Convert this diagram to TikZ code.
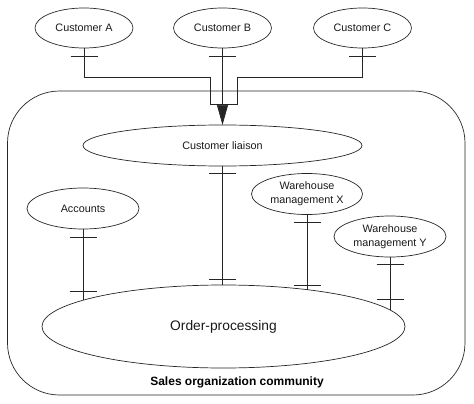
\documentclass[tikz,border=0pt]{standalone}
\usepackage{fontspec}
\setmainfont{Liberation Sans}
\usetikzlibrary{arrows.meta,decorations.markings,shapes.geometric}
\tikzset{
  ln/.style={draw=black!85, line width=0.7pt},
  ell/.style={ellipse, ln, inner sep=0pt, outer sep=0pt, align=center,
    font=\fontsize{10.8}{14}\selectfont, text=black!90},
  tk/.style={postaction={decorate,decoration={markings,
    mark=at position #1 with {\draw[-, black!85, line width=0.7pt] (0,-13.5pt) -- (0,13.5pt);}}}},
}
\begin{document}
\begin{tikzpicture}[x=1pt,y=-1pt]
\useasboundingbox (0,0) rectangle (474,404);
% outer community
\node (comm) [ln, rounded corners=52pt, minimum width=457.5pt, minimum height=304pt, inner sep=0pt, outer sep=0pt] at (236.25,243) {};
\node (commlbl) [font=\fontsize{12}{14}\selectfont\bfseries] at (237,382.5) {Sales organization community};
% customers
\node (A) [ell, minimum width=98pt, minimum height=40pt] at (84,28) {Customer A};
\node (B) [ell, minimum width=98pt, minimum height=40pt] at (222.5,28) {Customer B};
\node (C) [ell, minimum width=98pt, minimum height=40pt] at (362.5,28) {Customer C};
% inner nodes
\node (L) [ell, minimum width=279pt, minimum height=41pt] at (222.5,145.5) {Customer liaison};
\node (Acc) [ell, minimum width=112pt, minimum height=41pt] at (83,208.5) {Accounts};
\node (WX) [ell, minimum width=111pt, minimum height=41pt] at (307,194) {Warehouse\\management X};
\node (WY) [ell, minimum width=112pt, minimum height=41pt] at (390,236.5) {Warehouse\\management Y};
\node (O) [ell, minimum width=363pt, minimum height=83pt, font=\fontsize{13.8}{16}\selectfont] at (223.5,326.5) {Order-processing};
% junction coordinates
\coordinate (jl) at (210,77.7);
\coordinate (jlb) at (210,104.5);
\coordinate (jrb) at (237.7,104.5);
\coordinate (jr) at (237.7,77.7);
% ends on order-processing border
\coordinate (accE) at (83,299.5);
\coordinate (lE) at (222.5,285);
\coordinate (wxE) at (307,289.7);
\coordinate (wyE) at (390,310);
% connectors
\draw[ln, tk=8pt, tk=-8pt] (A.south) |- (jl) -- (jlb) -- (jrb) -- (jr) -| (C.south);
\draw[ln, tk=8pt, -{Triangle[length=20pt,width=11pt]}] (B.south) -- (L.north);
\draw[ln, tk=7pt, tk=-6pt] (L.south) -- (lE);
\draw[ln, tk=8pt, tk=-8pt] (Acc.south) -- (accE);
\draw[ln, tk=8pt, tk=-4pt] (WX.south) -- (wxE);
\draw[ln, tk=7pt, tk=-11pt] (WY.south) -- (wyE);
\end{tikzpicture}
\end{document}
